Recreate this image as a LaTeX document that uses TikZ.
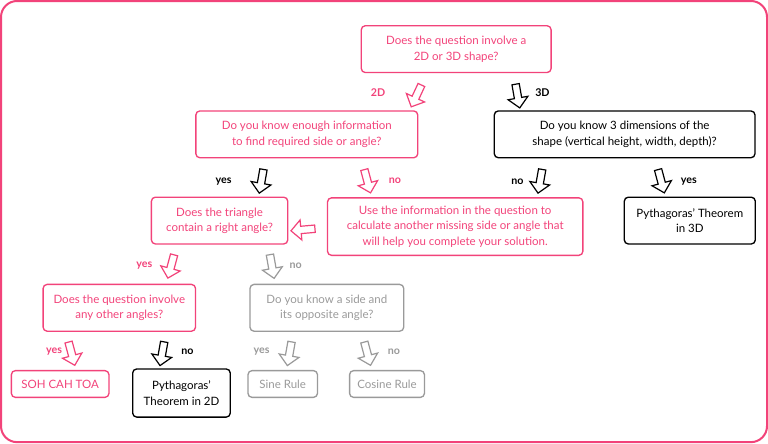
\documentclass[tikz,border=0pt]{standalone}
\usepackage{fontspec}
\setmainfont{Lato}
\usetikzlibrary{shapes.arrows}
\definecolor{hotpink}{HTML}{F2437A}
\definecolor{greyish}{HTML}{9A9A9A}
\tikzset{
    box/.style = {draw, rounded corners=3pt, line width=1pt, align=center,
                  font=\fontsize{8.6}{11.5}\selectfont, inner sep=4pt},
    pinkbox/.style = {box, hotpink, text=hotpink},
    blackbox/.style = {box, black},
    greybox/.style = {box, greyish, text=greyish},
    fat/.style = {single arrow, draw=#1, line width=0.9pt, fill=white,
                  minimum height=18pt, minimum width=15pt,
                  single arrow head extend=2.5pt, inner sep=1pt},
    lab/.style = {font=\bfseries\fontsize{8}{10}\selectfont}
}
\begin{document}
\begin{tikzpicture}% 
    [x=0.75pt, y=-0.75pt]
    \draw[hotpink, line width=1.5pt, rounded corners=12pt] (2,2) rectangle (766,442);

    % boxes
    \node[pinkbox, minimum width=142pt, minimum height=35pt] (shape) at (456,50) {Does the question involve a\\2D or 3D shape?};
    \node[pinkbox, minimum width=166pt, minimum height=35pt] (enough) at (307,135) {Do you know enough information\\to find required side or angle?};
    \node[blackbox, minimum width=195pt, minimum height=35pt] (dims) at (624,135) {Do you know 3 dimensions of the\\shape (vertical height, width, depth)?};
    \node[pinkbox, minimum width=102pt, minimum height=35pt] (right) at (220,221) {Does the triangle\\contain a right angle?};
    \node[pinkbox, minimum width=191pt, minimum height=43pt] (info) at (455,227) {Use the information in the question to\\calculate another missing side or angle that\\will help you complete your solution.};
    \node[blackbox, minimum width=98pt, minimum height=35pt] (pyth3) at (689,221) {Pythagoras' Theorem\\in 3D};
    \node[pinkbox, minimum width=114pt, minimum height=35pt] (other) at (120,308) {Does the question involve\\any other angles?};
    \node[greybox, minimum width=115pt, minimum height=35pt] (opp) at (327,308) {Do you know a side and\\its opposite angle?};
    \node[pinkbox, minimum width=73pt, minimum height=20pt] (soh) at (61,384) {SOH CAH TOA};
    \node[blackbox, minimum width=73pt, minimum height=36pt] (pyth2) at (182,393) {Pythagoras'\\Theorem in 2D};
    \node[greybox, minimum width=52pt, minimum height=20pt] (sine) at (283,384) {Sine Rule};
    \node[greybox, minimum width=56pt, minimum height=20pt] (cosine) at (387,384) {Cosine Rule};

    % arrows
    \node[fat=hotpink, rotate=-115] (a2d) at (417,95) {};
    \node[fat=black, rotate=-80] (a3d) at (517,95) {};
    \node[fat=black, rotate=-100] (ayes1) at (262,180) {};
    \node[fat=hotpink, rotate=-75] (ano1) at (367,180) {};
    \node[fat=black, rotate=-100] (ano2) at (540,180) {};
    \node[fat=black, rotate=-75] (ayes2) at (660,180) {};
    \node[fat=hotpink, rotate=185] (aleft) at (305,230) {};
    \node[fat=hotpink, rotate=-105] (ayes3) at (172,265) {};
    \node[fat=greyish, rotate=-80] (ano3) at (272,265) {};
    \node[fat=hotpink, rotate=-75] (ayes4) at (72,352) {};
    \node[fat=black, rotate=-100] (ano4) at (163,352) {};
    \node[fat=greyish, rotate=-100] (ayes5) at (290,352) {};
    \node[fat=greyish, rotate=-75] (ano5) at (367,352) {};

    % labels
    \node[lab, hotpink] (l2d) at (378,93) {2D};
    \node[lab] (l3d) at (542,93) {3D};
    \node[lab] (lyes1) at (224,182) {yes};
    \node[lab, hotpink] (lno1) at (395,181) {no};
    \node[lab] (lno2) at (517,182) {no};
    \node[lab] (lyes2) at (688,182) {yes};
    \node[lab, hotpink] (lyes3) at (145,266) {yes};
    \node[lab, greyish] (lno3) at (296,266) {no};
    \node[lab, hotpink] (lyes4) at (55,352) {yes};
    \node[lab] (lno4) at (188,352) {no};
    \node[lab, greyish] (lyes5) at (262,352) {yes};
    \node[lab, greyish] (lno5) at (394,352) {no};
\end{tikzpicture}
\end{document}
